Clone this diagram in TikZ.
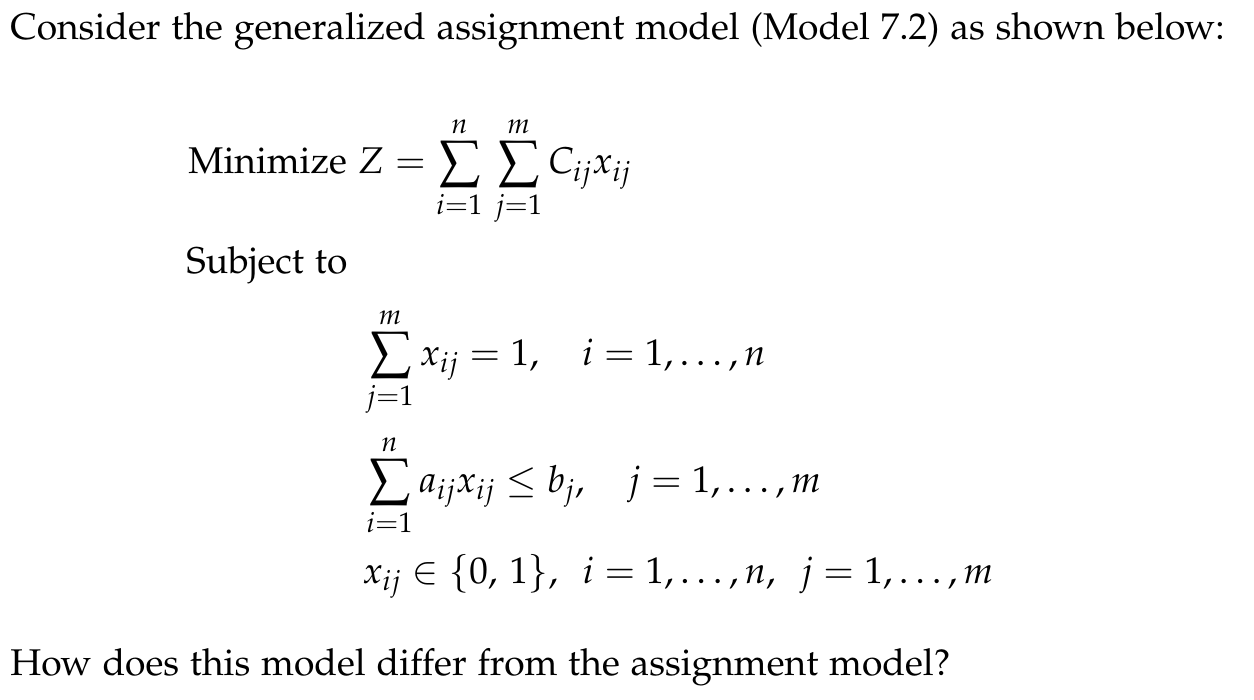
\documentclass[tikz,border=0pt]{standalone}
\usepackage[T1]{fontenc}
\usepackage{mathpazo}
\renewcommand{\rmdefault}{pplx}
\begin{document}
\begin{tikzpicture}[x=0.5pt,y=-0.5pt,
  txt/.style={anchor=base west,inner sep=0pt,font=\fontfamily{pplx}\fontsize{18.6}{23}\selectfont}]
\useasboundingbox (0,0) rectangle (1254,700);
\node[txt] (l1) at (10,40) {Consider the generalized assignment model (Model 7.2) as shown below:};
\node[txt] (l2) at (188,174) {Minimize $\displaystyle Z=\sum_{i=1}^{n}\,\sum_{j=1}^{m}C_{ij}x_{ij}$};
\node[txt] (l3) at (186,274) {Subject to};
\node[txt] (l4) at (366,365) {$\displaystyle \sum_{j=1}^{m}x_{ij}=1,\quad i=1,\ldots,n$};
\node[txt] (l5) at (366,492) {$\displaystyle \sum_{i=1}^{n}a_{ij}x_{ij}\le b_j,\quad j=1,\ldots,m$};
\node[txt] (l6) at (362,583) {$x_{ij}\in\{0,\,1\},\enskip i=1,\ldots,n,\enskip j=1,\ldots,m$};
\node[txt] (l7) at (10,675) {How does this model differ from the assignment model?};
\end{tikzpicture}
\end{document}
